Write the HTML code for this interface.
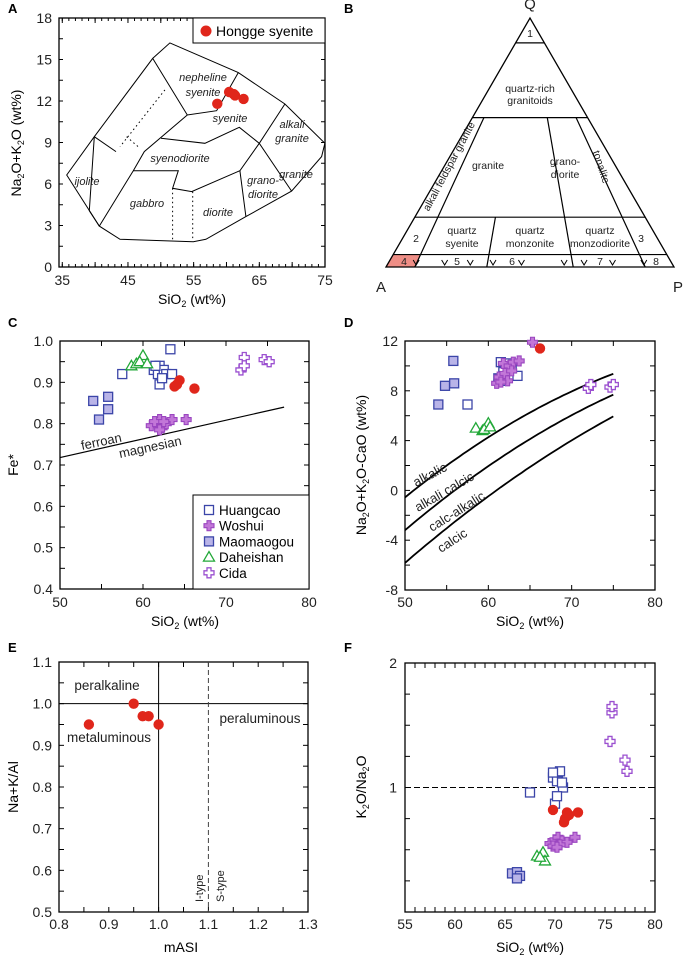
<!DOCTYPE html>
<html><head><meta charset="utf-8">
<style>
html,body{margin:0;padding:0;background:#fff;}
svg{display:block;font-family:"Liberation Sans",Arial,sans-serif;}
</style></head>
<body>
<svg id="fig" width="685" height="959" viewBox="0 0 685 959" xmlns="http://www.w3.org/2000/svg">
<g id="layer"></g>
</svg>
<script>
// ===== DATA =====
// Panel A (TAS) Hongge syenite
const aSiO2 = [58.6, 60.4, 61.1, 61.3, 62.6];
const aAlk  = [11.8, 12.65, 12.5, 12.4, 12.15];
const aXTicks = [35, 45, 55, 65, 75];
const aYTicks = [0, 3, 6, 9, 12, 15, 18];
// TAS field boundaries (data units)
const tasOuter = [[35.67,6.65],[40.64,2.96],[43.78,2.0],[54.95,1.83],[56.87,2.0],[62.96,3.64],[69.91,5.49],[74.48,7.98],[74.99,8.94],[68.9,11.78],[61.8,14.05],[51.39,16.2],[48.76,15.08],[39.88,9.42]];
const tasLines = [
 [[39.88,9.42],[39.12,4.07],[40.64,2.96]],
 [[39.88,9.42],[43.18,8.34]],
 [[48.76,15.08],[54.03,10.99],[58.5,11.3],[61.8,14.05]],
 [[54.03,10.99],[47.49,8.34],[45.81,6.96],[40.64,2.96]],
 [[50.03,9.3],[56.72,8.94],[61.95,10.1],[65.0,8.94],[69.91,5.49]],
 [[68.9,11.78],[65.0,8.94],[62.05,6.96],[62.96,3.64]],
 [[45.81,6.96],[52.66,6.96],[51.8,5.69],[54.7,5.45],[62.05,6.96]]
];
const tasDotted = [
 [[51.8,5.69],[51.8,1.95]],
 [[54.85,5.45],[54.85,2.07]],
 [[50.63,12.8],[43.78,8.7]],
 [[44.8,9.42],[46.83,8.58]]
];
// Panel C
const cXTicks = [50,60,70,80];
const cYTicks = [0.4,0.5,0.6,0.7,0.8,0.9,1.0];
const cHuangX = [57.5,61.3,61.8,62,62.5,62.8,63.5,62,63.3,62.3,61.5];
const cHuangY = [0.92,0.93,0.92,0.94,0.93,0.92,0.92,0.895,0.98,0.91,0.94];
const cMaoX = [54,55.8,55.8,54.7];
const cMaoY = [0.855,0.865,0.835,0.81];
const cDaheX = [58.6,59.2,60,59.6,60.5];
const cDaheY = [0.94,0.945,0.965,0.95,0.945];
const cWoX = [61,61.8,62,62.3,62.8,63.5,65.2,62,61.4,62.5];
const cWoY = [0.795,0.8,0.81,0.79,0.8,0.81,0.81,0.785,0.805,0.805];
const cCidaX = [72.2,71.8,72.2,74.6,75.2];
const cCidaY = [0.96,0.93,0.94,0.955,0.95];
const cHongX = [63.8,64.4,66.2,64.1];
const cHongY = [0.89,0.905,0.885,0.895];
const cLineX = [50,77];
const cLineY = [0.718,0.84];
// Panel D
const dXTicks = [50,60,70,80];
const dYTicks = [-8,-4,0,4,8,12];
const dMaoX = [55.8,54.8,55.9,54];
const dMaoY = [10.4,8.4,8.6,6.9];
const dHuangX = [57.5,61.5,62.5,63.5,61.2,62,62.8,61.8];
const dHuangY = [6.9,10.3,10.2,9.2,9.0,8.8,9.8,9.5];
const dDaheX = [58.5,59.3,60,59.5,60.2];
const dDaheY = [5.0,4.8,5.4,4.9,5.1];
const dWoX = [61,61.3,62,61.8,62.5,63,63.7,62.3,61.5,62.8,65.3];
const dWoY = [8.6,9.1,9.4,10.2,10.0,10.3,10.4,8.8,8.7,9.6,11.9];
const dCidaX = [72,72.3,74.6,75];
const dCidaY = [8.2,8.5,8.3,8.5];
const dHongX = [66.2];
const dHongY = [11.4];
// MALI boundary quadratic coefficients [c0,c1,c2] (Frost et al.)
const maliA = [-41.86,1.112,-0.00572];
const maliB = [-44.72,1.094,-0.00527];
const maliC = [-45.36,1.0043,-0.00427];
// Panel E
const eXTicks = [0.8,0.9,1.0,1.1,1.2,1.3];
const eYTicks = [0.5,0.6,0.7,0.8,0.9,1.0,1.1];
const eHongX = [0.86,0.95,0.968,0.98,1.0];
const eHongY = [0.95,1.0,0.97,0.97,0.95];
// Panel F
const fXTicks = [55,60,65,70,75,80];
const fYTickLabels = [1,2];
const fHuangX = [67.5,69.8,70.3,70.2,70.5,70.8,70,70.2,69.8,70.7];
const fHuangY = [0.96,1.08,1.1,1.05,1.13,1.0,0.87,0.93,1.12,1.04];
const fHongX = [69.8,71.2,71,71.4,72.3,70.9];
const fHongY = [0.82,0.8,0.75,0.78,0.8,0.72];
const fWoX = [69.5,70,70.3,70.7,71.2,70.5,72,69.8,70.2];
const fWoY = [0.55,0.58,0.6,0.57,0.56,0.54,0.6,0.53,0.52];
const fDaheX = [68.2,68.8,69,68.5];
const fDaheY = [0.45,0.48,0.41,0.44];
const fMaoX = [65.7,66.2,66.5,66.2];
const fMaoY = [0.31,0.32,0.29,0.27];
const fCidaX = [75.7,75.5,77,77.2,75.7];
const fCidaY = [1.6,1.37,1.22,1.13,1.65];

// ===== RENDER =====
const NS = "http://www.w3.org/2000/svg";
const root = document.getElementById('layer');
function el(tag, attrs, parent, txt){
  const e = document.createElementNS(NS, tag);
  for (const k in attrs) e.setAttribute(k, attrs[k]);
  if (txt !== undefined) e.textContent = txt;
  (parent || root).appendChild(e);
  return e;
}
function scale(d0,d1,p0,p1){ return v => p0 + (v-d0)/(d1-d0)*(p1-p0); }
const RED="#e0261b", BLUE="#3b45a8", MAOF="#b9b4e8", WOF="#c277d8", WOS="#9a46c0", GREEN="#22a838", CIDA="#9b50d0";

function marker(g, type, x, y, name){
  let m;
  if (type==='dot') m = el('circle',{cx:x,cy:y,r:5.2,fill:RED},g);
  else if (type==='sq') m = el('rect',{x:x-4.5,y:y-4.5,width:9,height:9,fill:'#fff',stroke:BLUE,'stroke-width':1.3},g);
  else if (type==='fsq') m = el('rect',{x:x-4.5,y:y-4.5,width:9,height:9,fill:MAOF,stroke:BLUE,'stroke-width':1.3},g);
  else if (type==='tri') m = el('path',{d:`M${x} ${y-5.5}L${x+5.5} ${y+4}L${x-5.5} ${y+4}Z`,fill:'#fff',stroke:GREEN,'stroke-width':1.3},g);
  else {
    const a=2, b=5;
    const d=`M${x-a} ${y-b}H${x+a}V${y-a}H${x+b}V${y+a}H${x+a}V${y+b}H${x-a}V${y+a}H${x-b}V${y-a}H${x-a}Z`;
    if (type==='fcross') m = el('path',{d,fill:WOF,stroke:WOS,'stroke-width':1.1},g);
    else m = el('path',{d,fill:'#fff',stroke:CIDA,'stroke-width':1.3},g);
  }
  
  
  return m;
}
function series(g, type, xs, ys, sx, sy, name){
  for (let i=0;i<xs.length;i++) marker(g, type, sx(xs[i]), sy(ys[i]), name);
}
function frame(g, L,T,R,B){
  const r = el('rect',{x:L,y:T,width:R-L,height:B-T,fill:'none',stroke:'#000','stroke-width':1.3},g);
  
  
}
function ticksX(g, vals, sx, T, B, len, both){
  vals.forEach(v=>{
    const x=sx(v);
    el('line',{x1:x,y1:B,x2:x,y2:B-len,stroke:'#000','stroke-width':1},g);
    if (both) el('line',{x1:x,y1:T,x2:x,y2:T+len,stroke:'#000','stroke-width':1},g);
  });
}
function ticksY(g, vals, sy, L, R, len, both){
  vals.forEach(v=>{
    const y=sy(v);
    el('line',{x1:L,y1:y,x2:L+len,y2:y,stroke:'#000','stroke-width':1},g);
    if (both) el('line',{x1:R,y1:y,x2:R-len,y2:y,stroke:'#000','stroke-width':1},g);
  });
}
function xLabels(g, vals, sx, y, fmt){
  vals.forEach(v=>{ const t=el('text',{x:sx(v),y:y,'font-size':14,'text-anchor':'middle',fill:'#222'},g, fmt?fmt(v):String(v));
      });
}
function yLabels(g, vals, sy, x, fmt){
  vals.forEach(v=>{ const t=el('text',{x:x,y:sy(v)+5,'font-size':14,'text-anchor':'end',fill:'#222'},g, fmt?fmt(v):String(v));
      });
}
function letter(txt,x,y){
  const t=el('text',{x,y,'font-size':13,'font-weight':'bold'},root,txt);
  
  
}
function rng(a,b,s){ const r=[]; for(let v=a; v<=b+1e-9; v+=s) r.push(+v.toFixed(4)); return r; }
function plotText(g,x,y,str,opts){
  const a=Object.assign({x,y,'font-size':11,fill:'#222'},opts||{});
  return el('text',a,g,str);
}
function polyPath(pts,sx,sy,close){
  return pts.map((p,i)=>(i?'L':'M')+sx(p[0]).toFixed(1)+' '+sy(p[1]).toFixed(1)).join('')+(close?'Z':'');
}

// ---- Panel A ----
(function(){
  const g=el('g',{});
   
  const L=59,R=325,T=18,B=267;
  const sx=scale(34.5,75,L,R), sy=scale(0,18,B,T);
  letter('A',8,13);
  const o=el('path',{d:polyPath(tasOuter,sx,sy,true),fill:'none',stroke:'#000','stroke-width':1},g);
   
  tasLines.forEach(l=>{ const p=el('path',{d:polyPath(l,sx,sy),fill:'none',stroke:'#000','stroke-width':1},g);
      });
  tasDotted.forEach(l=>{ const p=el('path',{d:polyPath(l,sx,sy),fill:'none',stroke:'#000','stroke-width':1,'stroke-dasharray':'1.5 3'},g);
      });
  const it={'font-style':'italic','font-size':11,'text-anchor':'middle'};
  [['nepheline',203,81],['syenite',203,96],['syenite',230,122],['alkali',292,128],['granite',292,142],['syenodiorite',180,162],['ijolite',87,185],['gabbro',147,207],['diorite',218,216],['granite',296,178],['grano-',263,184],['diorite',263,198]]
   .forEach(a=>{ const t=plotText(g,a[1],a[2],a[0],it);   });
  frame(g,L,T,R,B);
  ticksX(g,rng(35,75,1),sx,T,B,3,true);
  ticksX(g,rng(35,75,5),sx,T,B,5,true);
  ticksY(g,rng(1.5,16.5,1.5),sy,L,R,4,true);
  xLabels(g,aXTicks,sx,285);
  yLabels(g,aYTicks,sy,52);
  series(g,'dot',aSiO2,aAlk,sx,sy,'hongge-point');
  // legend
  const lg=el('g',{},g);  
  el('rect',{x:193,y:18,width:132,height:25,fill:'#fff',stroke:'#000','stroke-width':1},lg);
  el('circle',{cx:206,cy:31,r:5.5,fill:RED},lg);
  el('text',{x:216,y:36,'font-size':14},lg,'Hongge syenite');
  const xl=el('text',{x:192,y:304,'font-size':14,'text-anchor':'middle'},g);
  xl.innerHTML='SiO<tspan font-size="9" dy="3">2</tspan><tspan dy="-3"> (wt%)</tspan>';
   
  const yl=el('text',{x:0,y:0,'font-size':14,'text-anchor':'middle',transform:'translate(21,143) rotate(-90)'},g);
  yl.innerHTML='Na<tspan font-size="9" dy="3">2</tspan><tspan dy="-3">O+K</tspan><tspan font-size="9" dy="3">2</tspan><tspan dy="-3">O (wt%)</tspan>';
   
})();

// ---- Panel B (QAP) ----
(function(){
  const g=el('g',{});
   
  letter('B',344,13);
  const Ax=386,Px=674,By=267,Qy=18,W=Px-Ax,H=By-Qy;
  const pt=(f,q)=>[Ax+(1-q)*f*W+q*W/2, By-q*H];
  const line=(a,b,name)=>{ const l=el('line',{x1:a[0],y1:a[1],x2:b[0],y2:b[1],stroke:'#000','stroke-width':1.2},g);
      };
  const f4=pt(0,0),f4b=pt(0.1,0),f4c=pt(0.1,0.05),f4d=pt(0,0.05);
  const r4=el('path',{d:`M${f4[0]} ${f4[1]}L${f4b[0]} ${f4b[1]}L${f4c[0]} ${f4c[1]}L${f4d[0]} ${f4d[1]}Z`,fill:'#ee8e86'},g);
   
  const tri=el('path',{d:`M${Ax} ${By}L${Px} ${By}L${(Ax+Px)/2} ${Qy}Z`,fill:'none',stroke:'#000','stroke-width':1.3},g);
   
  [0.9,0.6,0.2,0.05].forEach(q=>line(pt(0,q),pt(1,q),'q-boundary'));
  line(pt(0.1,0.6),pt(0.1,0),'p-boundary');
  line(pt(0.35,0.2),pt(0.35,0),'p-boundary');
  line(pt(0.65,0.6),pt(0.65,0),'p-boundary');
  line(pt(0.9,0.6),pt(0.9,0),'p-boundary');
  // small chevrons on bottom
  [[0.2,0],[0.29,0],[0.37,0],[0.47,0],[0.62,0],[0.69,0],[0.79,0],[0.9,0],[0.1,0]].forEach(p=>{
    const c=pt(p[0],0.012);
    el('path',{d:`M${c[0]-3} ${c[1]-4}L${c[0]} ${c[1]+1}L${c[0]+3} ${c[1]-4}`,fill:'none',stroke:'#000','stroke-width':1},g);
  });
  const t=(x,y,s,extra)=>{ const e=el('text',Object.assign({x,y,'font-size':10.5,'text-anchor':'middle',fill:'#222'},extra||{}),g,s);
      return e; };
  t(530,9,'Q',{'font-size':15}); t(381,292,'A',{'font-size':15}); t(678,292,'P',{'font-size':15});
  t(530,37,'1'); t(530,92,'quartz-rich'); t(530,104,'granitoids');
  t(488,169,'granite'); t(565,165,'grano-'); t(565,178,'diorite');
  t(0,0,'tonalite',{transform:'translate(598,168) rotate(72)'});
  t(0,0,'alkali feldspar granite',{transform:'translate(452,168) rotate(-62)'});
  t(416,242,'2'); t(641,242,'3');
  t(462,234,'quartz'); t(462,247,'syenite');
  t(530,234,'quartz'); t(530,247,'monzonite');
  t(600,234,'quartz'); t(600,247,'monzodiorite');
  t(404,265,'4'); t(457,265,'5'); t(512,265,'6'); t(600,265,'7'); t(656,265,'8');
})();

// ---- Panel C ----
(function(){
  const g=el('g',{});
   
  letter('C',8,327);
  const L=60,R=309,T=341,B=589;
  const sx=scale(50,80,L,R), sy=scale(0.4,1.0,B,T);
  frame(g,L,T,R,B);
  ticksX(g,rng(50,80,5),sx,T,B,5,true);
  ticksY(g,rng(0.4,1.0,0.05),sy,L,R,5,true);
  xLabels(g,cXTicks,sx,607);
  yLabels(g,cYTicks,sy,53,v=>v.toFixed(1));
  const ln=el('line',{x1:sx(cLineX[0]),y1:sy(cLineY[0]),x2:sx(cLineX[1]),y2:sy(cLineY[1]),stroke:'#000','stroke-width':1.2},g);
   
  plotText(g,0,0,'ferroan',{'font-size':13,transform:'translate(82,450) rotate(-12)'});
  plotText(g,0,0,'magnesian',{'font-size':13,transform:'translate(120,458) rotate(-12)'});
  series(g,'fsq',cMaoX,cMaoY,sx,sy,'maomaogou-point');
  series(g,'sq',cHuangX,cHuangY,sx,sy,'huangcao-point');
  series(g,'tri',cDaheX,cDaheY,sx,sy,'daheishan-point');
  series(g,'fcross',cWoX,cWoY,sx,sy,'woshui-point');
  series(g,'cross',cCidaX,cCidaY,sx,sy,'cida-point');
  series(g,'dot',cHongX,cHongY,sx,sy,'hongge-point');
  const lg=el('g',{},g);  
  el('rect',{x:193,y:495,width:116,height:94,fill:'#fff',stroke:'#000','stroke-width':1},lg);
  [['sq','Huangcao'],['fcross','Woshui'],['fsq','Maomaogou'],['tri','Daheishan'],['cross','Cida']].forEach((e,i)=>{
    const y=510+i*15.7;
    marker(lg,e[0],209,y,'legend-marker');
    const tt=el('text',{x:219,y:y+5,'font-size':13.5},lg,e[1]);
     
  });
  const xl=el('text',{x:185,y:626,'font-size':14,'text-anchor':'middle'},g);
  xl.innerHTML='SiO<tspan font-size="9" dy="3">2</tspan><tspan dy="-3"> (wt%)</tspan>';
   
  const yl=el('text',{x:0,y:0,'font-size':14,'text-anchor':'middle',transform:'translate(18,465) rotate(-90)'},g,'Fe*');
   
})();

// ---- Panel D ----
(function(){
  const g=el('g',{});
   
  letter('D',344,327);
  const L=405,R=655,T=341,B=590;
  const sx=scale(50,80,L,R), sy=scale(-8,12,B,T);
  frame(g,L,T,R,B);
  ticksX(g,rng(50,80,5),sx,T,B,5,true);
  ticksY(g,rng(-8,12,2),sy,L,R,5,true);
  xLabels(g,dXTicks,sx,607);
  yLabels(g,dYTicks,sy,398);
  [maliA,maliB,maliC].forEach(c=>{
    const pts=[]; for(let x=50;x<=75.001;x+=0.5) pts.push([x,c[0]+c[1]*x+c[2]*x*x]);
    const p=el('path',{d:polyPath(pts,sx,sy),fill:'none',stroke:'#000','stroke-width':1.8},g);
     
  });
  plotText(g,0,0,'alkalic',{'font-size':13,transform:'translate(416,487) rotate(-28)'});
  plotText(g,0,0,'alkali calcic',{'font-size':13,transform:'translate(418,512) rotate(-30)'});
  plotText(g,0,0,'calc-alkalic',{'font-size':13,transform:'translate(432,532) rotate(-32)'});
  plotText(g,0,0,'calcic',{'font-size':13,transform:'translate(441,553) rotate(-33)'});
  series(g,'fsq',dMaoX,dMaoY,sx,sy,'maomaogou-point');
  series(g,'sq',dHuangX,dHuangY,sx,sy,'huangcao-point');
  series(g,'tri',dDaheX,dDaheY,sx,sy,'daheishan-point');
  series(g,'fcross',dWoX,dWoY,sx,sy,'woshui-point');
  series(g,'cross',dCidaX,dCidaY,sx,sy,'cida-point');
  series(g,'dot',dHongX,dHongY,sx,sy,'hongge-point');
  const xl=el('text',{x:530,y:626,'font-size':14,'text-anchor':'middle'},g);
  xl.innerHTML='SiO<tspan font-size="9" dy="3">2</tspan><tspan dy="-3"> (wt%)</tspan>';
   
  const yl=el('text',{x:0,y:0,'font-size':14,'text-anchor':'middle',transform:'translate(366,465) rotate(-90)'},g);
  yl.innerHTML='Na<tspan font-size="9" dy="3">2</tspan><tspan dy="-3">O+K</tspan><tspan font-size="9" dy="3">2</tspan><tspan dy="-3">O-CaO (wt%)</tspan>';
   
})();

// ---- Panel E ----
(function(){
  const g=el('g',{});
   
  letter('E',8,652);
  const L=59,R=308,T=662,B=912;
  const sx=scale(0.8,1.3,L,R), sy=scale(0.5,1.1,B,T);
  frame(g,L,T,R,B);
  ticksX(g,rng(0.8,1.3,0.05),sx,T,B,5,true);
  ticksY(g,rng(0.5,1.1,0.05),sy,L,R,5,true);
  xLabels(g,eXTicks,sx,929,v=>v.toFixed(1));
  yLabels(g,eYTicks,sy,52,v=>v.toFixed(1));
  el('line',{x1:L,y1:sy(1.0),x2:R,y2:sy(1.0),stroke:'#000','stroke-width':1},g);
  el('line',{x1:sx(1.0),y1:T,x2:sx(1.0),y2:B,stroke:'#000','stroke-width':1},g);
  el('line',{x1:sx(1.1),y1:T,x2:sx(1.1),y2:B,stroke:'#444','stroke-width':1,'stroke-dasharray':'5 3'},g);
  plotText(g,107,690,'peralkaline',{'font-size':13.5,'text-anchor':'middle'});
  plotText(g,109,742,'metaluminous',{'font-size':13.5,'text-anchor':'middle'});
  plotText(g,260,723,'peraluminous',{'font-size':13.5,'text-anchor':'middle'});
  plotText(g,0,0,'I-type',{'font-size':11,transform:'translate(203,902) rotate(-90)'});
  plotText(g,0,0,'S-type',{'font-size':11,transform:'translate(224,902) rotate(-90)'});
  series(g,'dot',eHongX,eHongY,sx,sy,'hongge-point');
  const xl=el('text',{x:181,y:952,'font-size':14,'text-anchor':'middle'},g,'mASI');
   
  const yl=el('text',{x:0,y:0,'font-size':14,'text-anchor':'middle',transform:'translate(18,787) rotate(-90)'},g,'Na+K/Al');
   
})();

// ---- Panel F ----
(function(){
  const g=el('g',{});
   
  letter('F',344,652);
  const L=405,R=655,T=663,B=912;
  const sx=scale(55,80,L,R), sy=scale(0,2,B,T);
  frame(g,L,T,R,B);
  ticksX(g,rng(56,79,1),sx,T,B,5,true);
  ticksY(g,rng(0.25,1.75,0.25),sy,L,R,5,true);
  xLabels(g,fXTicks,sx,929);
  yLabels(g,fYTickLabels,sy,397);
  el('line',{x1:L,y1:sy(1),x2:R,y2:sy(1),stroke:'#000','stroke-width':1,'stroke-dasharray':'6 3'},g);
  series(g,'fsq',fMaoX,fMaoY,sx,sy,'maomaogou-point');
  series(g,'sq',fHuangX,fHuangY,sx,sy,'huangcao-point');
  series(g,'tri',fDaheX,fDaheY,sx,sy,'daheishan-point');
  series(g,'fcross',fWoX,fWoY,sx,sy,'woshui-point');
  series(g,'cross',fCidaX,fCidaY,sx,sy,'cida-point');
  series(g,'dot',fHongX,fHongY,sx,sy,'hongge-point');
  const xl=el('text',{x:530,y:952,'font-size':14,'text-anchor':'middle'},g);
  xl.innerHTML='SiO<tspan font-size="9" dy="3">2</tspan><tspan dy="-3"> (wt%)</tspan>';
   
  const yl=el('text',{x:0,y:0,'font-size':14,'text-anchor':'middle',transform:'translate(366,787) rotate(-90)'},g);
  yl.innerHTML='K<tspan font-size="9" dy="3">2</tspan><tspan dy="-3">O/Na</tspan><tspan font-size="9" dy="3">2</tspan><tspan dy="-3">O</tspan>';
   
})();
</script>
</body></html>
